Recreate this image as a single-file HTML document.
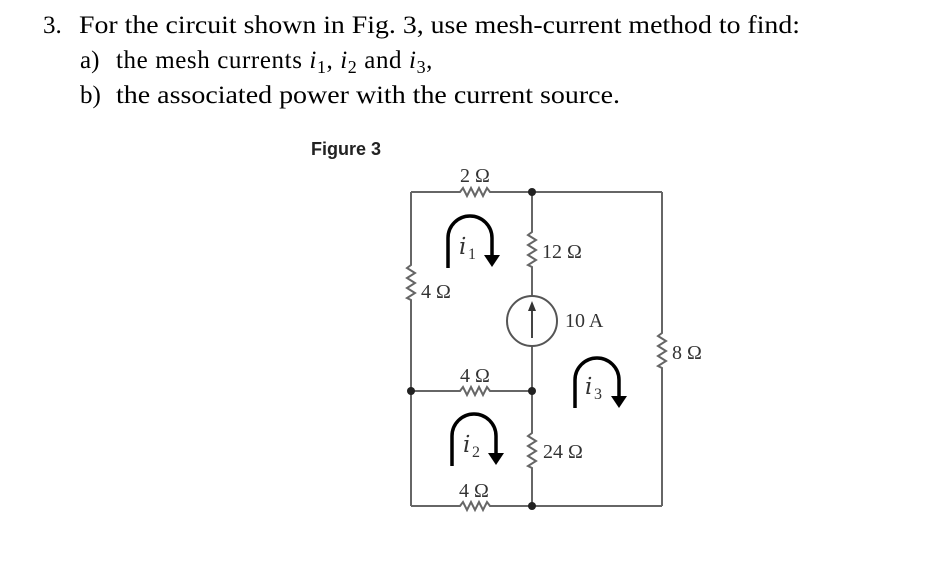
<!DOCTYPE html>
<html><head><meta charset="utf-8"><style>
html,body{margin:0;padding:0;background:#fff;width:925px;height:562px;overflow:hidden}
svg{display:block}
.t{font-family:"Liberation Serif",serif;font-size:25px;fill:#000}
.c{font-family:"Liberation Serif",serif;font-size:20px;fill:#333}
.m{font-family:"DejaVu Serif","Liberation Serif",serif;font-style:italic;font-size:23px;fill:#333}
.s{font-family:"Liberation Serif",serif;font-size:16px;fill:#333}
</style></head><body>
<svg width="925" height="562" viewBox="0 0 925 562">
<text class="t" x="43" y="33">3.</text>
<text class="t" x="79" y="33" textLength="721" lengthAdjust="spacingAndGlyphs">For the circuit shown in Fig. 3, use mesh-current method to find:</text>
<text class="t" x="80" y="68">a)</text>
<text class="t" x="116" y="68" letter-spacing="0.6">the mesh currents <tspan font-style="italic">i</tspan><tspan font-size="18" dy="5">1</tspan><tspan dy="-5">, </tspan><tspan font-style="italic">i</tspan><tspan font-size="18" dy="5">2</tspan><tspan dy="-5"> and </tspan><tspan font-style="italic">i</tspan><tspan font-size="18" dy="5">3</tspan><tspan dy="-5">,</tspan></text>
<text class="t" x="80" y="103">b)</text>
<text class="t" x="116" y="103" textLength="504" lengthAdjust="spacingAndGlyphs">the associated power with the current source.</text>
<text x="311" y="155" font-family="Liberation Sans,sans-serif" font-weight="bold" font-size="18" fill="#222" textLength="70" lengthAdjust="spacingAndGlyphs">Figure 3</text>

<g stroke="#666" stroke-width="2" fill="none">
<path d="M411 192 H460 l3 -4 l4 8 l4 -8 l4 8 l4 -8 l4 8 l4 -8 l3 4 H662"/>
<path d="M411 192 V265 l-4 3 l8 5 l-8 5 l8 5 l-8 5 l8 5 l-8 5 l4 2 V506"/>
<path d="M411 391 H460 l3 -4 l4 8 l4 -8 l4 8 l4 -8 l4 8 l4 -8 l3 4 H532"/>
<path d="M411 506 H460 l3 -4 l4 8 l4 -8 l4 8 l4 -8 l4 8 l4 -8 l3 4 H662"/>
<path d="M532 192 V232 l-4 3 l8 5 l-8 5 l8 5 l-8 5 l8 5 l-8 5 l4 2 V296"/>
<path d="M532 346 V433 l-4 3 l8 5 l-8 5 l8 5 l-8 5 l8 5 l-8 5 l4 2 V506"/>
<path d="M662 192 V333 l-4 3 l8 5 l-8 5 l8 5 l-8 5 l8 5 l-8 5 l4 2 V506"/>
<circle cx="532" cy="321" r="25" stroke="#555"/>
<path d="M532 338 V310" stroke="#444"/>
</g>
<path d="M532 301 l-4 10 h8 z" fill="#333"/>
<g fill="#222"><circle cx="532" cy="192" r="4"/><circle cx="411" cy="391" r="4"/><circle cx="532" cy="391" r="4"/><circle cx="532" cy="506" r="4"/></g>

<g stroke="#000" stroke-width="3.5" fill="none">
<path d="M448 268 V238 A22 22 0 0 1 492 238 V256"/>
<path d="M452 466 V436 A22 22 0 0 1 496 436 V454"/>
<path d="M575 408 V380 A22 22 0 0 1 619 380 V397"/>
</g>
<g fill="#000">
<path d="M484 255 h16 l-8 12 z"/>
<path d="M488 453 h16 l-8 12 z"/>
<path d="M611 396 h16 l-8 12 z"/>
</g>
<text class="m" x="459" y="254">i</text><text class="s" x="468" y="259">1</text>
<text class="m" x="463" y="452">i</text><text class="s" x="472" y="457">2</text>
<text class="m" x="585" y="394">i</text><text class="s" x="594" y="399">3</text>

<text class="c" x="460" y="182">2 Ω</text>
<text class="c" x="542" y="258">12 Ω</text>
<text class="c" x="421" y="298">4 Ω</text>
<text class="c" x="565" y="327">10 A</text>
<text class="c" x="672" y="359">8 Ω</text>
<text class="c" x="460" y="382">4 Ω</text>
<text class="c" x="543" y="458">24 Ω</text>
<text class="c" x="459" y="497">4 Ω</text>
</svg>
</body></html>
